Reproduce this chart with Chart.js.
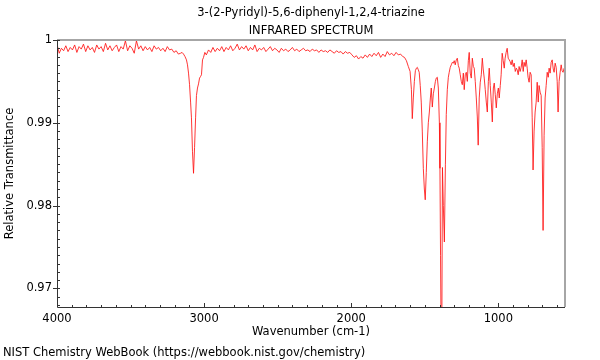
<!DOCTYPE html>
<html>
<head>
<meta charset="utf-8">
<script src="https://cdn.jsdelivr.net/npm/chart.js@4.4.1/dist/chart.umd.min.js"></script>
<style>
  body { margin: 0; background: #fff; }
  #wrap { position: relative; width: 600px; height: 360px; }
  .txt { position: absolute; font: 11.5px "DejaVu Sans", sans-serif; color: #000; white-space: nowrap; line-height: 14px; }
  #title1, #title2 { left: 111px; width: 400px; text-align: center; }
  #title1 { top: 5px; }
  #title2 { top: 23px; }
  #footer { left: 3px; top: 345px; }
</style>
</head>
<body>
<div id="wrap">
  <canvas id="irChart" width="600" height="360"></canvas>
  <div class="txt" id="title1">3-(2-Pyridyl)-5,6-diphenyl-1,2,4-triazine</div>
  <div class="txt" id="title2">INFRARED SPECTRUM</div>
  <div class="txt" id="footer">NIST Chemistry WebBook (https://webbook.nist.gov/chemistry)</div>
</div>
<script>
// spectrum: wavenumber (cm-1) and relative transmittance
const wavenumbers = [
  4000, 3985, 3970, 3955, 3940, 3925, 3910, 3895, 3880, 3865, 3850, 3835, 3820, 3805, 3790,
  3775, 3760, 3745, 3730, 3715, 3700, 3685, 3670, 3655, 3640, 3625, 3610, 3595, 3580, 3565,
  3550, 3535, 3520, 3505, 3490, 3475, 3460, 3445, 3430, 3415, 3400, 3385, 3370, 3355, 3340,
  3325, 3310, 3295, 3280, 3265, 3250, 3235, 3220, 3205, 3190, 3175, 3160,
  3150, 3140, 3130, 3120, 3113, 3106, 3099, 3092, 3086, 3079, 3072, 3065, 3058, 3052, 3045,
  3038, 3031, 3024, 3018, 3011, 3004, 2995,
  2985, 2970, 2955, 2940, 2925, 2910, 2895, 2880, 2865, 2850, 2835, 2820, 2805, 2790, 2775,
  2760, 2745, 2730, 2715, 2700, 2685, 2670, 2655, 2640, 2625, 2610, 2595, 2580, 2565, 2550,
  2535, 2520, 2505, 2490, 2475, 2460, 2445, 2430, 2415, 2400, 2385, 2370, 2355, 2340, 2325,
  2310, 2295, 2280, 2265, 2250, 2235, 2220, 2205, 2190, 2175, 2160, 2145, 2130, 2115, 2100,
  2085, 2070, 2055, 2040, 2025, 2010, 1995, 1980, 1965, 1950, 1935, 1920, 1905, 1890, 1875,
  1860, 1845, 1830, 1815, 1800, 1785, 1770, 1755, 1740, 1725, 1710, 1695, 1680,
  1665, 1650, 1638, 1625, 1612, 1600, 1591, 1585, 1578, 1571, 1564, 1557, 1551, 1544, 1538,
  1531, 1524, 1517, 1510, 1503, 1497, 1490, 1483, 1476, 1469, 1462, 1456, 1449, 1442, 1435,
  1428, 1422, 1415, 1408, 1401, 1397, 1393, 1389, 1384, 1380, 1374, 1367, 1360, 1354, 1347,
  1340, 1334, 1327, 1320, 1313, 1306, 1300, 1293, 1286, 1279, 1272, 1266, 1259, 1252, 1245,
  1238, 1232, 1225, 1218, 1211, 1204, 1198, 1191, 1184, 1177, 1170, 1164, 1157, 1150, 1143,
  1137, 1130, 1123, 1116, 1109, 1103, 1096, 1089, 1082, 1075, 1068, 1062, 1055, 1048, 1041,
  1034, 1028, 1021, 1014, 1007, 1000, 994, 987, 981, 974, 967, 960, 954, 947, 940,
  933, 926, 920, 913, 906, 899, 892, 885, 878, 872, 865, 859, 852, 845, 838,
  831, 825, 818, 811, 804, 798, 791, 784, 777, 770, 764, 757, 750, 743, 736,
  729, 723, 716, 709, 702, 696, 689, 682, 675, 668, 661, 655, 648, 641, 634,
  627, 621, 614, 607, 600, 594, 587, 580, 573, 567, 560, 553
];
const transmittance = [
  0.9995, 0.9984, 0.9990, 0.9987, 0.9993, 0.9986, 0.9991, 0.9988, 0.9994, 0.9985, 0.9992, 0.9989, 0.9995, 0.9986, 0.9993,
  0.9988, 0.9991, 0.9985, 0.9994, 0.9989, 0.9992, 0.9986, 0.9996, 0.9988, 0.9993, 0.9987, 0.9991, 0.9994, 0.9986, 0.9992,
  0.9989, 0.9999, 0.9987, 0.9993, 0.9990, 0.9984, 0.9999, 0.9989, 0.9993, 0.9987, 0.9992, 0.9988, 0.9991, 0.9986, 0.9993,
  0.9989, 0.9991, 0.9987, 0.9990, 0.9986, 0.9992, 0.9988, 0.9989, 0.9985, 0.9987, 0.9983, 0.9984,
  0.9985, 0.9983, 0.9980, 0.9976, 0.9970, 0.9960, 0.9946, 0.9925, 0.9906, 0.9865, 0.9839, 0.9870, 0.9906, 0.9933, 0.9942,
  0.9947, 0.9954, 0.9956, 0.9958, 0.9976, 0.9979, 0.9985,
  0.9982, 0.9988, 0.9985, 0.9991, 0.9986, 0.9990, 0.9987, 0.9992, 0.9986, 0.9991, 0.9988, 0.9993, 0.9987, 0.9990, 0.9995,
  0.9988, 0.9992, 0.9989, 0.9993, 0.9987, 0.9991, 0.9988, 0.9994, 0.9986, 0.9990, 0.9988, 0.9991, 0.9986, 0.9989, 0.9992,
  0.9987, 0.9990, 0.9988, 0.9985, 0.9990, 0.9987, 0.9989, 0.9986, 0.9988, 0.9991, 0.9987, 0.9989, 0.9986, 0.9988, 0.9990,
  0.9987, 0.9988, 0.9986, 0.9989, 0.9987, 0.9988, 0.9985, 0.9988, 0.9986, 0.9987, 0.9985, 0.9988, 0.9986, 0.9984, 0.9987,
  0.9985, 0.9986, 0.9983, 0.9986, 0.9984, 0.9985, 0.9982, 0.9979, 0.9981, 0.9977, 0.9980, 0.9978, 0.9982, 0.9979, 0.9983,
  0.9980, 0.9984, 0.9981, 0.9985, 0.9979, 0.9983, 0.9980, 0.9986, 0.9982, 0.9984, 0.9981, 0.9985, 0.9982,
  0.9983, 0.9980, 0.9979, 0.9975, 0.9968, 0.9962, 0.9940, 0.9905, 0.9930, 0.9950, 0.9963, 0.9966, 0.9967, 0.9964, 0.9961,
  0.9945, 0.9925, 0.9890, 0.9845, 0.9820, 0.9807, 0.9840, 0.9877, 0.9900, 0.9913, 0.9930, 0.9942, 0.9919, 0.9935, 0.9942,
  0.9950, 0.9954, 0.9955, 0.9942, 0.9900, 0.9845, 0.9740, 0.9640, 0.9660, 0.9846, 0.9800, 0.9756, 0.9850, 0.9910, 0.9940,
  0.9955, 0.9961, 0.9967, 0.9970, 0.9973, 0.9972, 0.9975, 0.9970, 0.9976, 0.9978, 0.9969, 0.9966, 0.9958, 0.9950, 0.9946,
  0.9960, 0.9940, 0.9958, 0.9961, 0.9950, 0.9975, 0.9985, 0.9960, 0.9954, 0.9978, 0.9968, 0.9966, 0.9950, 0.9930, 0.9907,
  0.9873, 0.9930, 0.9949, 0.9958, 0.9978, 0.9965, 0.9954, 0.9940, 0.9925, 0.9913, 0.9950, 0.9966, 0.9945, 0.9925, 0.9901,
  0.9942, 0.9948, 0.9934, 0.9918, 0.9935, 0.9942, 0.9930, 0.9945, 0.9958, 0.9984, 0.9975, 0.9966, 0.9978, 0.9985, 0.9990,
  0.9978, 0.9976, 0.9974, 0.9970, 0.9976, 0.9968, 0.9972, 0.9962, 0.9966, 0.9964, 0.9958, 0.9968, 0.9962, 0.9967, 0.9976,
  0.9962, 0.9973, 0.9968, 0.9976, 0.9966, 0.9955, 0.9949, 0.9961, 0.9958, 0.9906, 0.9843, 0.9890, 0.9913, 0.9925, 0.9949,
  0.9925, 0.9945, 0.9937, 0.9933, 0.9870, 0.9770, 0.9885, 0.9930, 0.9945, 0.9961, 0.9955, 0.9966, 0.9960, 0.9973, 0.9976,
  0.9965, 0.9961, 0.9972, 0.9967, 0.9950, 0.9913, 0.9950, 0.9961, 0.9970, 0.9963, 0.9961, 0.9966
];

const xMajorTicks = [4000, 3000, 2000, 1000];
const yMajorTicks = [0.97, 0.98, 0.99, 1];
const xMin = 547, xMax = 4000;
const yMin = 0.96775, yMax = 1;

const FONT = '"DejaVu Sans", sans-serif';

// frame + tick marks drawn by hand, matplotlib-like
const frameTicks = {
  id: 'frameTicks',
  afterDraw(chart) {
    const { ctx, chartArea: a, scales: { x, y } } = chart;
    ctx.save();
    ctx.lineWidth = 2;
    ctx.strokeStyle = '#a6a6a6';
    ctx.beginPath();
    ctx.moveTo(a.left, a.top); ctx.lineTo(a.right, a.top); ctx.lineTo(a.right, a.bottom);
    ctx.stroke();
    ctx.lineWidth = 1;
    ctx.strokeStyle = '#333';
    ctx.beginPath();
    ctx.moveTo(a.left + 0.5, a.top); ctx.lineTo(a.left + 0.5, a.bottom + 0.5); ctx.lineTo(a.right, a.bottom + 0.5);
    // x ticks, minor every 100
    for (let w = 600; w <= 4000; w += 100) {
      const px = Math.round(x.getPixelForValue(w)) + 0.5;
      const len = w % 1000 === 0 ? 4 : 2;
      ctx.moveTo(px, a.bottom); ctx.lineTo(px, a.bottom - len);
    }
    // y ticks, minor every 0.001
    for (let i = 968; i <= 1000; i++) {
      const py = Math.round(y.getPixelForValue(i / 1000)) + 0.5;
      if (i % 10 === 0) {
        ctx.moveTo(a.left - 4, py); ctx.lineTo(a.left + 3, py);
      } else {
        ctx.moveTo(a.left, py); ctx.lineTo(a.left + 3, py);
      }
    }
    ctx.stroke();
    ctx.restore();
  }
};

new Chart(document.getElementById('irChart').getContext('2d'), {
  type: 'line',
  data: {
    datasets: [{
      data: wavenumbers.map((w, i) => ({ x: w, y: transmittance[i] })),
      borderColor: 'rgba(255, 20, 20, 0.85)',
      borderWidth: 1,
      pointRadius: 0,
      tension: 0,
      fill: false
    }]
  },
  options: {
    responsive: false,
    animation: false,
    layout: { padding: { left: 0, right: 35, top: 40, bottom: 0 } },
    plugins: {
      legend: { display: false },
      tooltip: { enabled: false },
      title: { display: false }
    },
    scales: {
      x: {
        type: 'linear',
        reverse: true,
        min: xMin,
        max: xMax,
        afterFit(s) { s.height = 53; },
        afterBuildTicks(s) { s.ticks = xMajorTicks.map(v => ({ value: v })); },
        grid: { display: false, drawTicks: false },
        border: { display: false },
        ticks: { color: '#000', padding: 5, maxRotation: 0, font: { family: FONT, size: 11.5 }, callback: v => String(v) },
        title: {
          display: true, text: 'Wavenumber (cm-1)', color: '#000',
          font: { family: FONT, size: 11.5 }, padding: { top: 0, bottom: 21 }
        }
      },
      y: {
        min: yMin,
        max: yMax,
        afterFit(s) { s.width = 57; },
        afterBuildTicks(s) { s.ticks = yMajorTicks.map(v => ({ value: v })); },
        grid: { display: false, drawTicks: false },
        border: { display: false },
        ticks: { color: '#000', padding: 5, font: { family: FONT, size: 11.5 }, callback: v => String(v) },
        title: {
          display: true, text: 'Relative Transmittance', color: '#000',
          font: { family: FONT, size: 11.5 }, padding: { top: 3, bottom: 0 }
        }
      }
    }
  },
  plugins: [frameTicks]
});
</script>
</body>
</html>
